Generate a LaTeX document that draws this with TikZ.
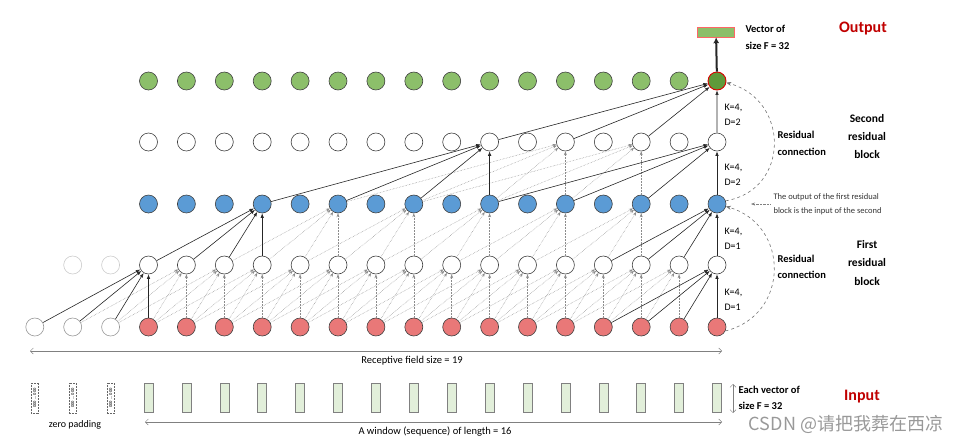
\documentclass[tikz,border=0pt]{standalone}
\usepackage{fontspec}
\setmainfont{Carlito}
\newfontfamily\cjkfont{Noto Sans CJK SC}
\usetikzlibrary{arrows.meta}

\definecolor{unitred}{HTML}{E97878}
\definecolor{unitblue}{HTML}{5B9BD5}
\definecolor{unitgreen}{HTML}{8CBF6A}
\definecolor{lastgreen}{HTML}{5E9A3A}
\definecolor{vecgreen}{HTML}{E2EFDA}
\definecolor{titlered}{HTML}{C00000}

\tikzset{
  unit/.style={circle, draw=black!75, line width=0.6pt, minimum size=18pt, inner sep=0pt},
  padunit/.style={unit, draw=black!40},
  ghostunit/.style={unit, draw=black!20},
  conn/.style={densely dotted, black!45, line width=0.5pt, -{Stealth[length=4pt,width=3pt]}},
  hlconn/.style={black!85, line width=0.6pt, -{Latex[length=4.5pt,width=3.5pt]}},
  resid/.style={dashed, black!55, line width=0.6pt, -{Stealth[length=5pt,width=4pt]}},
  dim/.style={black!50, line width=0.5pt, {Straight Barb[length=3pt]}-{Straight Barb[length=3pt]}},
  vec/.style={rectangle, draw=black!50, fill=vecgreen, line width=0.5pt, minimum width=9pt, minimum height=29pt, inner sep=0pt},
  zerovec/.style={rectangle, draw=black!60, densely dotted, line width=0.5pt, minimum width=30pt, minimum height=7.5pt, inner sep=0pt, rotate=90, font=\fontsize{4.5}{5}\selectfont},
  klabel/.style={anchor=west, align=left, font=\fontsize{10}{15}\selectfont},
  blocklabel/.style={align=center, font=\bfseries\fontsize{11.5}{18}\selectfont},
  title/.style={text=titlered, font=\bfseries\fontsize{16}{18}\selectfont}
}

\begin{document}
\begin{tikzpicture}[x=1pt,y=-1pt]
\useasboundingbox (0,0) rectangle (966,440);

	\foreach \j in {-3,...,-1} {
		\node[padunit] (r1c\j) at ({148.5+37.9*\j},327) {};
		\node[zerovec] (z\j) at ({148.5+37.9*\j},398) {000 ... 000};
	}
	\foreach \j in {-2,-1}
		\node[ghostunit] (r2c\j) at ({148.5+37.9*\j},265) {};

	\foreach \j in {0,...,15} {
		\node[unit, fill=unitred] (r1c\j) at ({148.5+37.9*\j},327) {};
		\node[unit, fill=white] (r2c\j) at ({148.5+37.9*\j},265) {};
		\node[unit, fill=unitblue] (r3c\j) at ({148.5+37.9*\j},204) {};
		\node[unit, fill=white] (r4c\j) at ({148.5+37.9*\j},142) {};
		\node[vec] (v\j) at ({148.5+37.9*\j},397.5) {};
	}
	\foreach \j in {0,...,14}
		\node[unit, fill=unitgreen] (r5c\j) at ({148.5+37.9*\j},81) {};
	\node[unit, fill=lastgreen, draw=red!85!black, line width=0.9pt] (r5c15) at (717,81) {};

	\node[rectangle, draw=red!60, fill=unitgreen, minimum width=37pt, minimum height=10pt, inner sep=0pt] (out) at (716,32) {};
	\draw[black!85, line width=2pt, -{Latex[length=6pt,width=6pt]}] (r5c15) -- (out);

	% first block, D=1
	\foreach \j in {1,...,14}
		\foreach \k in {0,...,3} {
			\pgfmathtruncatemacro\s{\j-\k}
			\draw[conn] (r1c\s) -- (r2c\j);
		}
	\foreach \j in {0,15}
		\foreach \k in {0,...,3} {
			\pgfmathtruncatemacro\s{\j-\k}
			\draw[hlconn] (r1c\s) -- (r2c\j);
		}
	\foreach \j in {5,7,...,13}
		\foreach \k in {0,...,3} {
			\pgfmathtruncatemacro\s{\j-\k}
			\draw[conn] (r2c\s) -- (r3c\j);
		}
	\foreach \j in {3,15}
		\foreach \k in {0,...,3} {
			\pgfmathtruncatemacro\s{\j-\k}
			\draw[hlconn] (r2c\s) -- (r3c\j);
		}

	% second block, D=2
	\foreach \j in {11,13}
		\foreach \k in {0,...,3} {
			\pgfmathtruncatemacro\s{\j-2*\k}
			\draw[conn] (r3c\s) -- (r4c\j);
		}
	\foreach \j in {9,15}
		\foreach \k in {0,...,3} {
			\pgfmathtruncatemacro\s{\j-2*\k}
			\draw[hlconn] (r3c\s) -- (r4c\j);
		}
	\foreach \k in {0,...,3} {
		\pgfmathtruncatemacro\s{15-2*\k}
		\draw[hlconn] (r4c\s) -- (r5c15);
	}

	\draw[resid] (r1c15.-25) .. controls (790,315) and (790,225) .. (r3c15.-15);
	\draw[resid] (r3c15.20) .. controls (790,190) and (790,100) .. (r5c15.-10);

	\node[klabel] (k4) at (721,114.5) {K=4,\\D=2};
	\node[klabel] (k3) at (721,174.5) {K=4,\\D=2};
	\node[klabel] (k2) at (721,239) {K=4,\\D=1};
	\node[klabel] (k1) at (721,299.5) {K=4,\\D=1};

	\node[klabel, font=\bfseries\fontsize{10.5}{16.5}\selectfont] (res2) at (774,143.5) {Residual\\connection};
	\node[klabel, font=\bfseries\fontsize{10.5}{16.5}\selectfont] (res1) at (774,267) {Residual\\connection};
	\node[blocklabel] (blk2) at (867,137) {Second\\residual\\block};
	\node[blocklabel] (blk1) at (867,263) {First\\residual\\block};

	\node[klabel, text=black!80, font=\fontsize{8.5}{14}\selectfont] (note) at (770,204) {The output of the first residual\\block is the input of the second};
	\coordinate (notetip) at (751,204);
	\draw[densely dotted, black!50, -{Stealth[length=4pt,width=3pt]}] (note.west) -- (notetip);

	\node[klabel, font=\bfseries\fontsize{10.5}{17}\selectfont] (vecout) at (742,37.5) {Vector of\\size F = 32};
	\node[title] (output) at (863,29) {Output};
	\node[title] (input) at (862,397) {Input};
	\node[klabel, font=\bfseries\fontsize{10.5}{16}\selectfont] (vecin) at (735,398) {Each vector of\\size F = 32};
	\coordinate (fTop) at (733,384);
	\coordinate (fBot) at (733,413);
	\draw[dim] (fTop) -- (fBot);

	\coordinate (rfL) at (30,351);
	\coordinate (rfR) at (722,351);
	\draw[dim] (rfL) -- (rfR);
	\node[font=\fontsize{10.5}{12}\selectfont] (rf) at (412,361) {Receptive field size = 19};

	\coordinate (winL) at (145,422);
	\coordinate (winR) at (722,422);
	\draw[dim] (winL) -- (winR);
	\node[font=\fontsize{10.5}{12}\selectfont] (win) at (435,432) {A window (sequence) of length = 16};
	\node[font=\fontsize{10}{12}\selectfont] (zp) at (75,425) {zero padding};

	\node[text=black!40, font=\cjkfont\fontsize{18}{22}\selectfont] (mark) at (846,424) {CSDN @请把我葬在西凉};

\end{tikzpicture}
\end{document}
